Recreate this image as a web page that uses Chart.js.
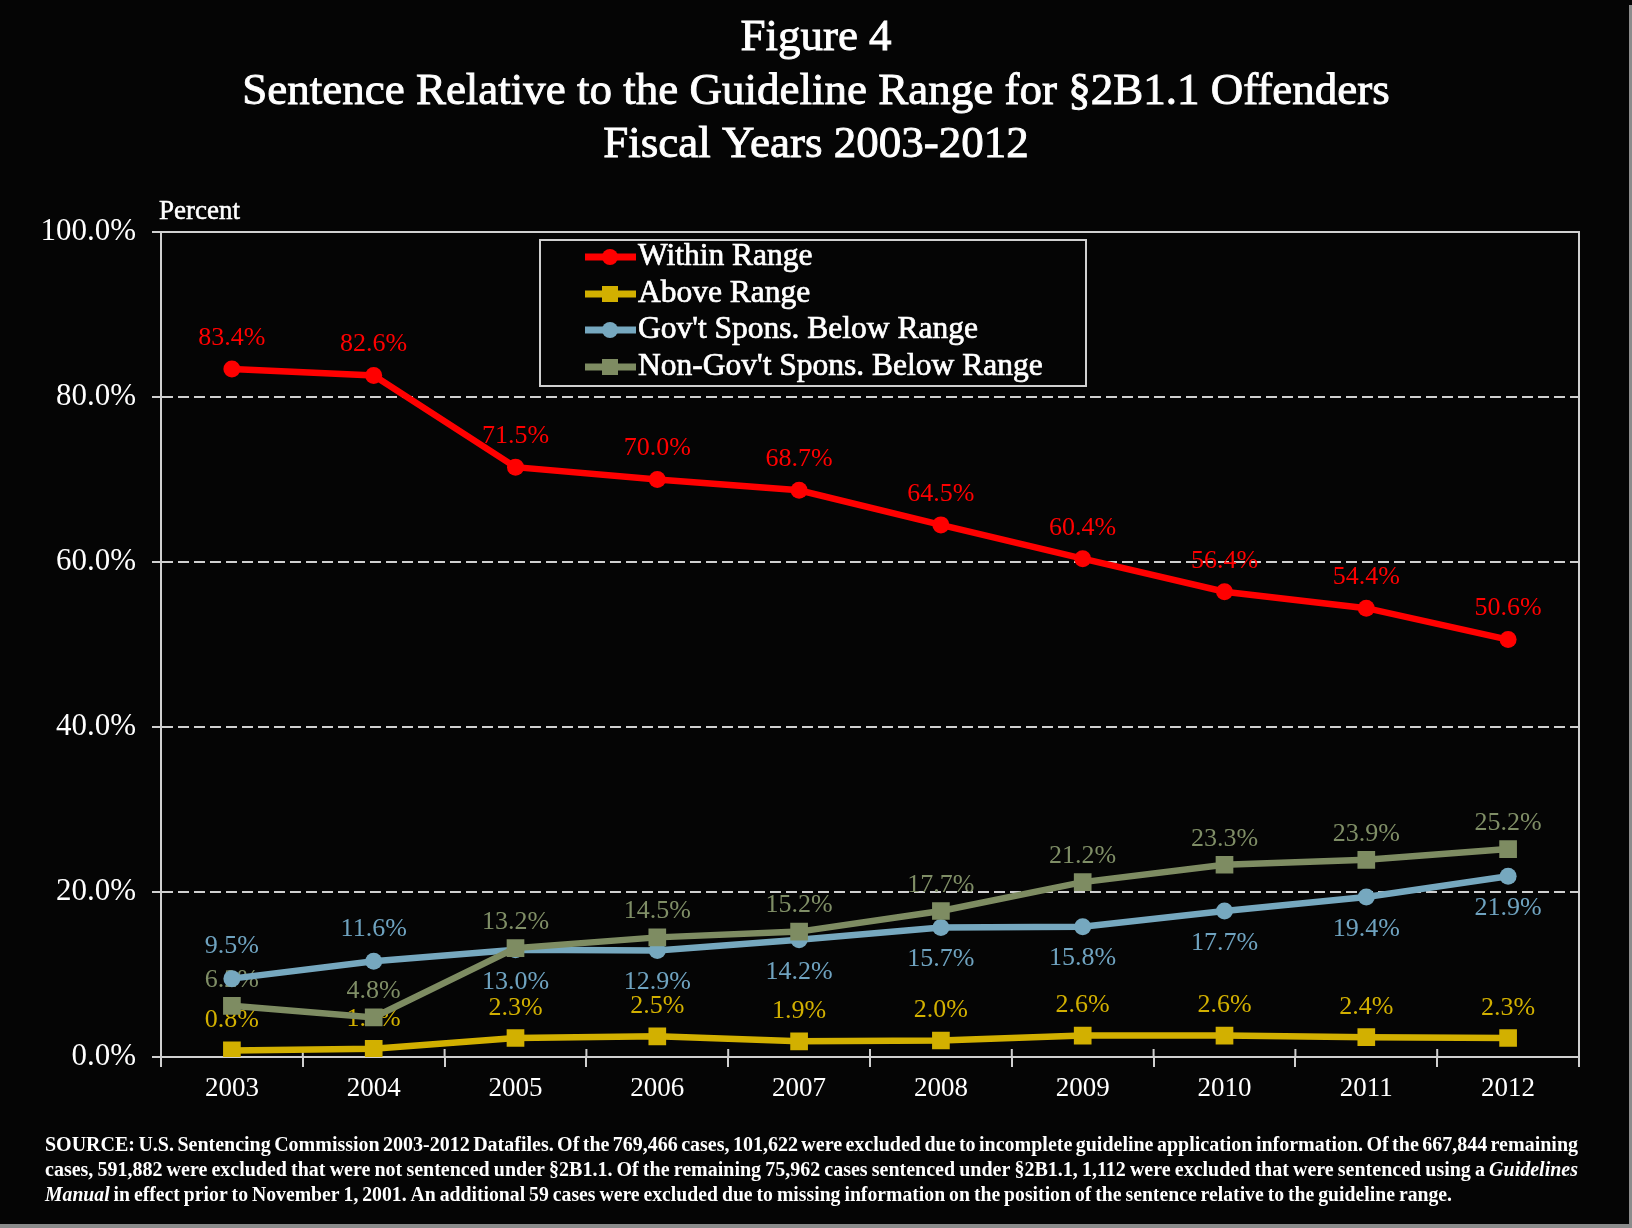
<!DOCTYPE html>
<html>
<head>
<meta charset="utf-8">
<script src="https://cdn.jsdelivr.net/npm/chart.js@4.4.1/dist/chart.umd.min.js"></script>
<style>
  html, body { margin: 0; padding: 0; background: #050505; }
  #wrap { position: relative; width: 1632px; height: 1228px; background: #050505; overflow: hidden; }
  canvas { display: block; }
</style>
</head>
<body>
<div id="wrap"><canvas id="myChart" width="1632" height="1228"></canvas></div>
<script>
// values
let years = ['2003', '2004', '2005', '2006', '2007', '2008', '2009', '2010', '2011', '2012'];
let withinRange = [83.4, 82.6, 71.5, 70.0, 68.7, 64.5, 60.4, 56.4, 54.4, 50.6];
let aboveRange = [0.8, 1.0, 2.3, 2.5, 1.9, 2.0, 2.6, 2.6, 2.4, 2.3];
let govBelow = [9.5, 11.6, 13.0, 12.9, 14.2, 15.7, 15.8, 17.7, 19.4, 21.9];
let nonGovBelow = [6.2, 4.8, 13.2, 14.5, 15.2, 17.7, 21.2, 23.3, 23.9, 25.2];
let yTicks = [0, 20, 40, 60, 80, 100];
let govLabelSide = ['above', 'above', 'below', 'below', 'below', 'below', 'below', 'below', 'below', 'below'];

let titleLines = [
    'Figure 4',
    'Sentence Relative to the Guideline Range for \u00A72B1.1 Offenders',
    'Fiscal Years 2003-2012'
];
// each line: list of [text, italic]
let sourceLines = [
    [['SOURCE: U.S. Sentencing Commission 2003-2012 Datafiles. Of the 769,466 cases, 101,622 were excluded due to incomplete guideline application information. Of the 667,844 remaining', false]],
    [['cases, 591,882 were excluded that were not sentenced under \u00A72B1.1. Of the remaining 75,962 cases sentenced under \u00A72B1.1, 1,112 were excluded that were sentenced using a', false], ['Guidelines', true]],
    [['Manual', true], ['in effect prior to November 1, 2001. An additional 59 cases were excluded due to missing information on the position of the sentence relative to the guideline range.', false]]
];

const serif = '"Liberation Serif", "Times New Roman", serif';
const gridColor = '#d0d0d0';

function heavyText(ctx, text, x, y, w) {
    ctx.lineWidth = w;
    ctx.strokeStyle = ctx.fillStyle;
    ctx.strokeText(text, x, y);
    ctx.fillText(text, x, y);
}

function drawJustified(ctx, segs, x, y, width, size, justify) {
    let words = [];
    segs.forEach(([text, italic]) => {
        text.split(' ').forEach((w) => {
            if (w) words.push({ w: w, font: (italic ? 'italic ' : '') + 'bold ' + size + 'px ' + serif });
        });
    });
    let total = 0;
    words.forEach((o) => { ctx.font = o.font; o.len = ctx.measureText(o.w).width; total += o.len; });
    ctx.font = 'bold ' + size + 'px ' + serif;
    let space = ctx.measureText(' ').width * 0.8;
    let natural = total + space * (words.length - 1);
    let gap = space;
    let scale = 1;
    if (justify) {
        gap = (width - total) / (words.length - 1);
        if (gap < space * 0.6) {
            gap = space * 0.6;
            scale = width / (total + gap * (words.length - 1));
        }
    } else if (natural > width) {
        scale = width / natural;
    }
    ctx.save();
    ctx.translate(x, y);
    ctx.scale(scale, 1);
    let cx = 0;
    words.forEach((o) => {
        ctx.font = o.font;
        ctx.fillText(o.w, cx, 0);
        cx += o.len + gap;
    });
    ctx.restore();
}

const pointLabels = {
    id: 'pointLabels',
    beforeDatasetsDraw(chart) {
        let ctx = chart.ctx;
        ctx.save();
        ctx.font = '26px ' + serif;
        ctx.textAlign = 'center';
        ctx.textBaseline = 'middle';
        chart.data.datasets.forEach((ds, i) => {
            let meta = chart.getDatasetMeta(i);
            meta.data.forEach((pt, j) => {
                let side = Array.isArray(ds.labelSide) ? ds.labelSide[j] : ds.labelSide;
                let off = side === 'below' ? ds.labelGap : -ds.labelGap;
                ctx.fillStyle = ds.labelColor;
                ctx.fillText(ds.data[j].toFixed(1) + '%', pt.x, pt.y + off);
            });
        });
        ctx.restore();
    }
};

const frame = {
    id: 'frame',
    beforeDatasetsDraw(chart) {
        let { ctx, chartArea: a } = chart;
        ctx.save();
        ctx.strokeStyle = gridColor;
        ctx.lineWidth = 2;
        ctx.setLineDash([]);
        ctx.strokeRect(a.left, a.top, a.right - a.left, a.bottom - a.top);
        // tick stubs above the x axis
        for (let k = 0; k <= years.length; k++) {
            let px = a.left + (a.right - a.left) * k / years.length;
            ctx.beginPath();
            ctx.moveTo(px, a.bottom - 8);
            ctx.lineTo(px, a.bottom);
            ctx.stroke();
        }
        ctx.restore();
    },
    afterDraw(chart) {
        let ctx = chart.ctx;
        ctx.save();
        ctx.fillStyle = '#ffffff';
        ctx.textAlign = 'center';
        ctx.textBaseline = 'middle';
        ctx.font = '45px ' + serif;
        let ty = [38, 92, 145];
        titleLines.forEach((t, i) => heavyText(ctx, t, 816, ty[i], 0.9));

        ctx.textAlign = 'left';
        ctx.font = '27px ' + serif;
        heavyText(ctx, 'Percent', 159, 212, 0.5);

        // legend
        ctx.strokeStyle = gridColor;
        ctx.lineWidth = 2;
        ctx.strokeRect(540, 240, 546, 146);
        let rows = [257, 294, 330, 367];
        chart.data.datasets.forEach((ds, i) => {
            let y = rows[i];
            ctx.strokeStyle = ds.borderColor;
            ctx.lineWidth = 7;
            ctx.beginPath();
            ctx.moveTo(585, y);
            ctx.lineTo(636, y);
            ctx.stroke();
            ctx.fillStyle = ds.borderColor;
            if (ds.pointStyle === 'rect') {
                ctx.fillRect(602, y - 8, 16, 16);
            } else {
                ctx.beginPath();
                ctx.arc(610, y, 8, 0, Math.PI * 2);
                ctx.fill();
            }
            ctx.fillStyle = '#ffffff';
            ctx.font = '31.5px ' + serif;
            heavyText(ctx, ds.label, 638, y, 0.7);
        });

        // source note
        ctx.fillStyle = '#ffffff';
        ctx.textBaseline = 'middle';
        let sy = [1146, 1171, 1196];
        sourceLines.forEach((segs, i) => {
            drawJustified(ctx, segs, 45, sy[i], i < 2 ? 1533 : 1407, 20, i < 2);
        });

        // page edge
        ctx.fillStyle = '#8c8c8c';
        ctx.fillRect(1629, 5, 3, 1223);
        ctx.fillRect(0, 1224, 1632, 4);
        ctx.restore();
    }
};

let data = {
    labels: years,
    datasets: [
        {
            label: 'Within Range',
            data: withinRange,
            borderColor: '#ff0000',
            backgroundColor: '#ff0000',
            pointStyle: 'circle',
            pointRadius: 8.5,
            labelColor: '#ff0000',
            labelGap: 31,
            labelSide: 'above',
            order: 0
        },
        {
            label: 'Above Range',
            data: aboveRange,
            borderColor: '#d2b000',
            backgroundColor: '#d2b000',
            pointStyle: 'rect',
            pointRadius: 12.5,
            labelColor: '#d2b000',
            labelGap: 30,
            labelSide: 'above',
            order: 3
        },
        {
            label: "Gov't Spons. Below Range",
            data: govBelow,
            borderColor: '#76a8bf',
            backgroundColor: '#76a8bf',
            pointStyle: 'circle',
            pointRadius: 8.5,
            labelColor: '#6fa3c0',
            labelGap: 32,
            labelSide: govLabelSide,
            order: 2
        },
        {
            label: "Non-Gov't Spons. Below Range",
            data: nonGovBelow,
            borderColor: '#7e8c62',
            backgroundColor: '#7e8c62',
            pointStyle: 'rect',
            pointRadius: 12.5,
            labelColor: '#7f8e66',
            labelGap: 26,
            labelSide: 'above',
            order: 1
        }
    ]
};

new Chart(document.getElementById('myChart'), {
    type: 'line',
    data: data,
    plugins: [frame, pointLabels],
    options: {
        responsive: false,
        animation: false,
        devicePixelRatio: 1,
        layout: { padding: { top: 232, right: 53, left: 0, bottom: 0 } },
        elements: {
            line: { borderWidth: 6.5, tension: 0 },
            point: { borderWidth: 0, hoverRadius: 9 }
        },
        plugins: {
            legend: { display: false },
            title: { display: false },
            tooltip: { enabled: false }
        },
        scales: {
            x: {
                offset: true,
                grid: { offset: true, drawOnChartArea: false, color: gridColor, lineWidth: 2, tickLength: 10 },
                border: { display: true, color: gridColor, width: 2 },
                ticks: { color: '#ffffff', font: { family: serif, size: 27 }, padding: 6, maxRotation: 0 },
                afterFit: (s) => { s.height = 171; }
            },
            y: {
                min: 0,
                max: 100,
                afterBuildTicks: (s) => { s.ticks = yTicks.map((v) => ({ value: v })); },
                grid: { color: gridColor, lineWidth: 2, tickLength: 9, tickColor: gridColor },
                border: { display: true, color: gridColor, width: 2, dash: [11, 5] },
                ticks: {
                    color: '#ffffff',
                    font: { family: serif, size: 31 },
                    padding: 16,
                    callback: (v) => v.toFixed(1) + '%'
                },
                afterFit: (s) => { s.width = 161; }
            }
        }
    }
});
</script>
</body>
</html>
